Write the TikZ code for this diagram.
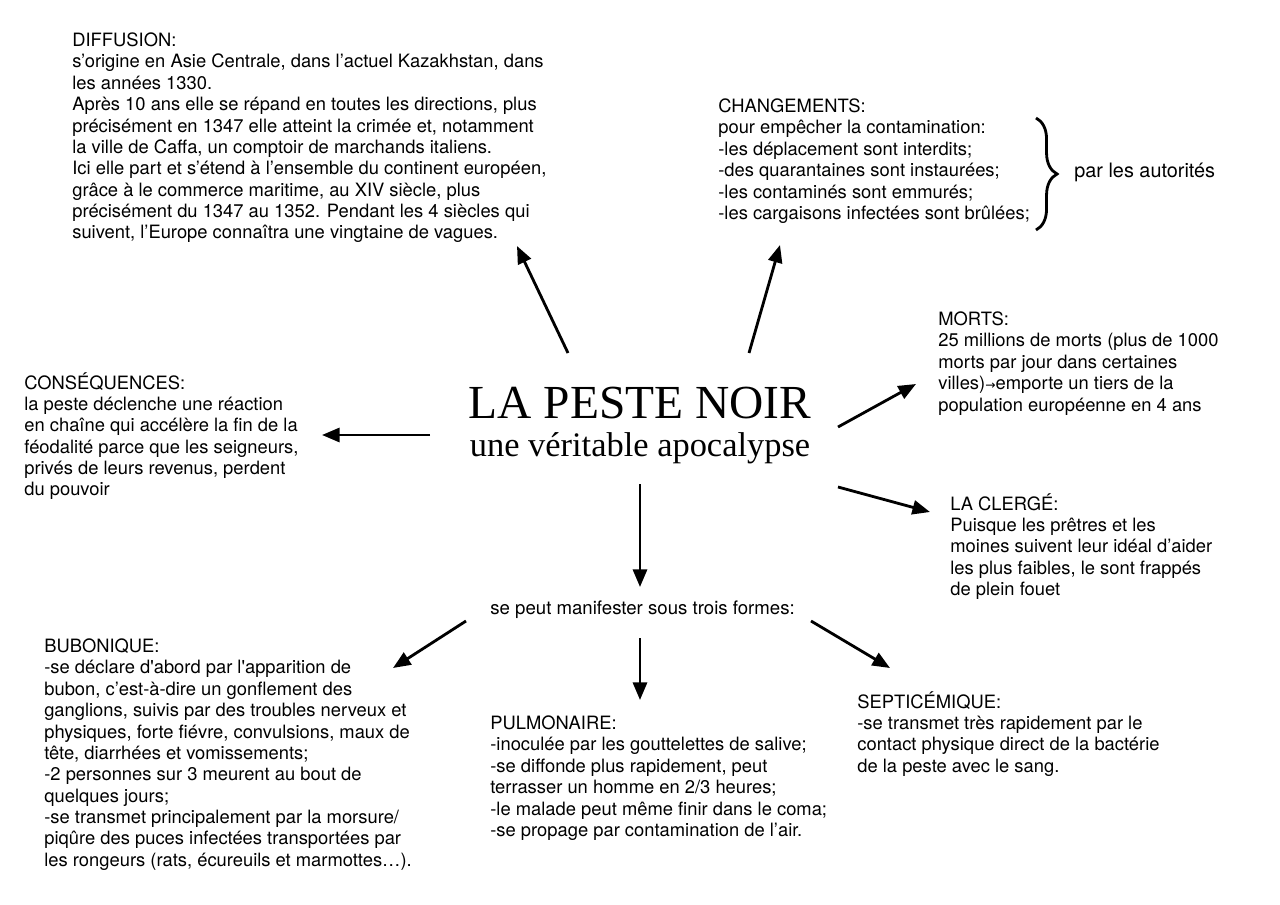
\documentclass[tikz,border=0pt]{standalone}
\usepackage{fontspec}
\setmainfont{TeX Gyre Heros}
\newfontfamily\titrefont{Liberation Serif}
\newfontfamily\flechefont{DejaVu Sans}
\usetikzlibrary{arrows.meta,decorations.pathreplacing}

\tikzset{
  texte/.style={anchor=north west, align=left, inner sep=0pt, font=\fontsize{10.45}{12.16}\selectfont},
  fleche/.style={line width=1.6pt, -{Triangle[length=10pt,width=8pt]}},
  accolade/.style={line width=1.6pt, decorate, decoration={brace, amplitude=12pt}}
}

\begin{document}
\begin{tikzpicture}[x=0.02cm,y=-0.02cm]
\useasboundingbox (0,0) rectangle (1280,905);
%Titre
\node[anchor=base, inner sep=0pt, font=\titrefont\fontsize{27}{30}\selectfont] (titre) at (640,418) {LA PESTE NOIR};
\node[anchor=base, inner sep=0pt, font=\titrefont\fontsize{19.6}{22}\selectfont] (soustitre) at (640,456) {une véritable apocalypse};
%Blocs
\node[texte] (diffusion) at (72,32.5) {DIFFUSION:\\
s’origine en Asie Centrale, dans l’actuel Kazakhstan, dans\\
les années 1330.\\
Après 10 ans elle se répand en toutes les directions, plus\\
précisément en 1347 elle atteint la crimée et, notamment\\
la ville de Caffa, un comptoir de marchands italiens.\\
Ici elle part et s’étend à l’ensemble du continent européen,\\
grâce à le commerce maritime, au XIV siècle, plus\\
précisément du 1347 au 1352. Pendant les 4 siècles qui\\
suivent, l’Europe connaîtra une vingtaine de vagues.};
\node[texte] (changements) at (718,98.5) {CHANGEMENTS:\\
pour empêcher la contamination:\\
-les déplacement sont interdits;\\
-des quarantaines sont instaurées;\\
-les contaminés sont emmurés;\\
-les cargaisons infectées sont brûlées;};
\node[anchor=base west, inner sep=0pt, font=\fontsize{11.3}{13}\selectfont] (autorites) at (1074,178) {par les autorités};
\node[texte] (morts) at (938,311.5) {MORTS:\\
25 millions de morts (plus de 1000\\
morts par jour dans certaines\\
villes){\flechefont\fontsize{7}{8}\selectfont →}emporte un tiers de la\\
population européenne en 4 ans};
\node[texte] (consequences) at (24,372) {CONSÉQUENCES:\\
la peste déclenche une réaction\\
en chaîne qui accélère la fin de la\\
féodalité parce que les seigneurs,\\
privés de leurs revenus, perdent\\
du pouvoir};
\node[texte] (clerge) at (950,493) {LA CLERGÉ:\\
Puisque les prêtres et les\\
moines suivent leur idéal d’aider\\
les plus faibles, le sont frappés\\
de plein fouet};
\node[anchor=base west, inner sep=0pt, font=\fontsize{10.6}{12.16}\selectfont] (formes) at (490,614) {se peut manifester sous trois formes:};
\node[texte] (bubonique) at (44,638.5) {BUBONIQUE:\\
-se déclare d\textquotesingle abord par l\textquotesingle apparition de\\
bubon, c’est-à-dire un gonflement des\\
ganglions, suivis par des troubles nerveux et\\
physiques, forte fiévre, convulsions, maux de\\
tête, diarrhées et vomissements;\\
-2 personnes sur 3 meurent au bout de\\
quelques jours;\\
-se transmet principalement par la morsure/\\
piqûre des puces infectées transportées par\\
les rongeurs (rats, écureuils et marmottes…).};
\node[texte] (pulmonaire) at (490,715.5) {PULMONAIRE:\\
-inoculée par les gouttelettes de salive;\\
-se diffonde plus rapidement, peut\\
terrasser un homme en 2/3 heures;\\
-le malade peut même finir dans le coma;\\
-se propage par contamination de l’air.};
\node[texte] (septicemique) at (857,691) {SEPTICÉMIQUE:\\
-se transmet très rapidement par le\\
contact physique direct de la bactérie\\
de la peste avec le sang.};
%Accolade
\draw[accolade] (1036,118) -- (1036,230);
%Fleches
\coordinate (dDiff) at (568,353);
\coordinate (fDiff) at (517,246);
\coordinate (dChang) at (749,353);
\coordinate (fChang) at (780,245);
\coordinate (dCons) at (430,435);
\coordinate (fCons) at (322,435);
\coordinate (dMorts) at (838,427);
\coordinate (fMorts) at (916,384);
\coordinate (dClerge) at (838,487);
\coordinate (fClerge) at (930,512);
\coordinate (dFormes) at (640,484);
\coordinate (fFormes) at (640,587);
\coordinate (dBub) at (466,621);
\coordinate (fBub) at (393,668);
\coordinate (dPulm) at (640,638);
\coordinate (fPulm) at (640,700);
\coordinate (dSept) at (811,621);
\coordinate (fSept) at (890,668);
\draw[fleche] (dDiff) -- (fDiff);
\draw[fleche] (dChang) -- (fChang);
\draw[fleche] (dCons) -- (fCons);
\draw[fleche] (dMorts) -- (fMorts);
\draw[fleche] (dClerge) -- (fClerge);
\draw[fleche] (dFormes) -- (fFormes);
\draw[fleche] (dBub) -- (fBub);
\draw[fleche] (dPulm) -- (fPulm);
\draw[fleche] (dSept) -- (fSept);
\end{tikzpicture}
\end{document}
